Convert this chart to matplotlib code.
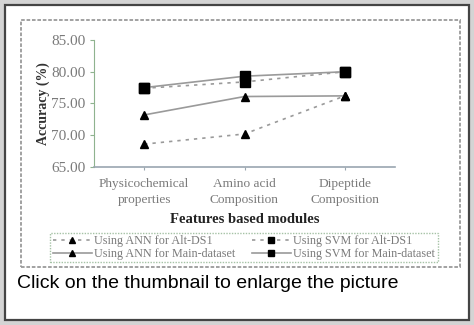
import matplotlib
matplotlib.use("Agg")
import matplotlib.pyplot as plt
from matplotlib.patches import Rectangle

categories = ["Physicochemical\nproperties", "Amino acid\nComposition", "Dipeptide\nComposition"]
ann_alt = [68.6, 70.2, 76.2]
svm_alt = [77.4, 78.4, 80.0]
ann_main = [73.2, 76.1, 76.2]
svm_main = [77.5, 79.3, 80.0]
yticks = [65.0, 70.0, 75.0, 80.0, 85.0]

W, H = 474, 325
fig = plt.figure(figsize=(W / 100, H / 100), dpi=100)
fig.patch.set_facecolor("white")

def fx(px):
    return px / W

def fy(py):
    return 1 - py / H

# outer frame
fig.patches.append(Rectangle((0, 0), 1, 1, transform=fig.transFigure,
                             facecolor="#d4d4d4", edgecolor="none", zorder=0))
fig.patches.append(Rectangle((fx(5), fy(320)), fx(464), 315 / H, transform=fig.transFigure,
                             facecolor="white", edgecolor="#444444", lw=1.6, zorder=1))
# dashed chart box
fig.patches.append(Rectangle((fx(21), fy(267)), fx(439), 247 / H, transform=fig.transFigure,
                             facecolor="white", edgecolor="#9a9a9a", lw=1.3,
                             linestyle=(0, (2, 1)), zorder=2))

ax = fig.add_axes([fx(94), fy(167), fx(301), 127 / H])
ax.set_zorder(3)
ax.patch.set_alpha(0)
x = list(range(len(categories)))

serif = "Liberation Serif"
line_col = "#9a9a9a"
dotted = (0, (2, 3))
l_ann_alt, = ax.plot(x, ann_alt, linestyle=dotted, color=line_col, lw=1.2, marker="^",
                     ms=5.5, mfc="black", mec="black", label="Using ANN for Alt-DS1")
l_svm_alt, = ax.plot(x, svm_alt, linestyle=dotted, color=line_col, lw=1.2, marker="s",
                     ms=6.5, mfc="black", mec="black", label="Using SVM for Alt-DS1")
l_ann_main, = ax.plot(x, ann_main, linestyle="-", color=line_col, lw=1.2, marker="^",
                      ms=5.5, mfc="black", mec="black", label="Using ANN for Main-dataset")
l_svm_main, = ax.plot(x, svm_main, linestyle="-", color=line_col, lw=1.2, marker="s",
                      ms=6.5, mfc="black", mec="black", label="Using SVM for Main-dataset")

ax.set_xlim(-0.5, 2.5)
ax.set_ylim(65, 85)
ax.set_yticks(yticks)
ax.set_yticklabels([f"{v:.2f}" for v in yticks], fontfamily=serif, fontsize=11, color="#7a7a7a")
ax.set_xticks(x)
ax.set_xticklabels(categories, fontfamily=serif, fontsize=9.6, color="#7a7a7a", linespacing=1.4)
for s in ["top", "right"]:
    ax.spines[s].set_visible(False)
ax.spines["left"].set_color("#8fb38f")
ax.spines["left"].set_linestyle((0, (1, 1)))
ax.spines["bottom"].set_color("#9aa6b0")
ax.spines["bottom"].set_linestyle((0, (2, 1)))
ax.spines["bottom"].set_linewidth(1.2)
ax.tick_params(axis="y", length=3, color="#8fb38f", pad=3)
ax.tick_params(axis="x", length=2, color="#9aa6b0", pad=6)

ax.set_ylabel("Accuracy (%)", fontfamily=serif, fontsize=10, fontweight="bold", color="#333333", labelpad=1)
ax.set_xlabel("Features based modules", fontfamily=serif, fontsize=10.5, fontweight="bold",
              color="#222222", labelpad=5)

handles = [l_ann_alt, l_ann_main, l_svm_alt, l_svm_main]
labels = [h.get_label() for h in handles]
leg = fig.legend(handles, labels, loc="center", bbox_to_anchor=(fx(244), fy(247.5)), ncol=2,
                 prop={"family": serif, "size": 8.7}, frameon=True, fancybox=False,
                 borderpad=0.2, handlelength=3.2, handletextpad=0.2, columnspacing=1.4,
                 labelspacing=0.05, borderaxespad=0)
leg.get_frame().set_edgecolor("#8fb38f")
leg.get_frame().set_linestyle((0, (1, 1)))
leg.get_frame().set_linewidth(1.0)
for t in leg.get_texts():
    t.set_color("#7a7a7a")
for h in leg.legend_handles:
    h.set_markersize(4)
leg.set_zorder(4)

fig.text(fx(17), fy(284), "Click on the thumbnail to enlarge the picture",
         fontfamily="Liberation Sans", fontsize=14, color="black", va="center", ha="left", zorder=5)

fig.savefig("out.png", dpi=100)
